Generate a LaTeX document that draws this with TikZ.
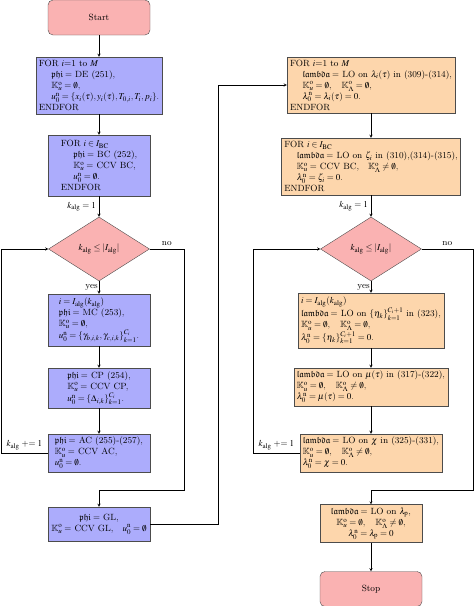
\documentclass[tikz,border=0pt]{standalone}
\usepackage{mathptmx}
\usepackage{amssymb}
\usetikzlibrary{shapes.geometric}
\definecolor{procblue}{RGB}{172,172,252}
\definecolor{procpeach}{RGB}{253,214,172}
\definecolor{condpink}{RGB}{250,178,178}
\newcommand{\ind}{\hspace*{1.4em}}
\newcommand{\Ku}{\mathbb{K}_u^{\mathrm{o}}}
\newcommand{\KL}{\mathbb{K}_\Lambda^{\mathrm{o}}}
\newcommand{\kalg}{k_{\mathrm{alg}}}

\begin{document}
\begin{tikzpicture}
  [x=1pt,y=-1pt,font=\small,>=stealth,
   every node/.style={inner sep=3pt},
   blubox/.style={draw=black!70,fill=procblue,align=left,minimum width=102pt},
   pchbox/.style={draw=black!70,fill=procpeach,align=left,minimum width=102pt},
   ends/.style={draw=black!70,fill=condpink,rounded corners=5pt,minimum width=102pt,minimum height=35pt},
   cond/.style={draw=black!70,fill=condpink,diamond,inner sep=0pt,minimum width=101pt,minimum height=64pt}]
  \useasboundingbox (0,0) rectangle (474,606);
  % left column
  \node[ends] (start) at (99,17.5) {Start};
  \node[blubox,minimum height=57pt] (fora) at (99,85.5) {FOR $i$=1 to $M$\\
    \ind$\mathfrak{phi}=$ DE (251),\\
    \ind$\Ku=\emptyset,$\\
    \ind$u_0^{\mathrm{n}}=\{x_i(\tau),y_i(\tau),T_{0,i},T_i,p_i\}.$\\
    ENDFOR};
  \node[blubox,minimum height=61pt] (forb) at (99,165.5) {FOR $i\in I_{\mathrm{BC}}$\\
    \ind$\mathfrak{phi}=$ BC (252),\\
    \ind$\Ku=$ CCV BC,\\
    \ind$u_0^{\mathrm{n}}=\emptyset.$\\
    ENDFOR};
  \node[cond] (conda) at (99,249) {$\kalg\leq|I_{\mathrm{alg}}|$};
  \node[blubox,minimum height=52pt] (mc) at (99,320) {$i=I_{\mathrm{alg}}(\kalg)$\\
    $\mathfrak{phi}=$ MC (253),\\
    $\Ku=\emptyset,$\\
    $u_0^{\mathrm{n}}=\{\gamma_{b,i,k},\gamma_{c,i,k}\}_{k=1}^{C_i}.$};
  \node[blubox,minimum height=40pt] (cp) at (99,388) {$\mathfrak{phi}=$ CP (254),\\
    $\Ku=$ CCV CP,\\
    $u_0^{\mathrm{n}}=\{\Delta_{i,k}\}_{k=1}^{C_i}.$};
  \node[blubox,minimum height=38pt] (ac) at (99,453) {$\mathfrak{phi}=$ AC (255)-(257),\\
    $\Ku=$ CCV AC,\\
    $u_0^{\mathrm{n}}=\emptyset.$};
  \node[blubox,align=center,minimum height=34pt] (gl) at (99,524) {$\mathfrak{phi}=$ GL,\\
    $\Ku=$ CCV GL,\quad $u_0^{\mathrm{n}}=\emptyset$};
  % right column
  \node[pchbox,minimum height=56pt] (lfora) at (371,85) {FOR $i$=1 to $M$\\
    \ind$\mathfrak{lambda}=$ LO on $\lambda_i(\tau)$ in (309)-(314),\\
    \ind$\Ku=\emptyset,\quad\KL=\emptyset,$\\
    \ind$\lambda_0^{\mathrm{n}}=\lambda_i(\tau)=0.$\\
    ENDFOR};
  \node[pchbox,minimum height=57pt] (lforb) at (371,166.5) {FOR $i\in I_{\mathrm{BC}}$\\
    \ind$\mathfrak{lambda}=$ LO on $\zeta_i$ in (310),(314)-(315),\\
    \ind$\Ku=$ CCV BC,\quad$\KL\neq\emptyset,$\\
    \ind$\lambda_0^{\mathrm{n}}=\zeta_i=0.$\\
    ENDFOR};
  \node[cond] (condb) at (371,249) {$\kalg\leq|I_{\mathrm{alg}}|$};
  \node[pchbox,minimum height=55pt] (leta) at (371,320.5) {$i=I_{\mathrm{alg}}(\kalg)$\\
    $\mathfrak{lambda}=$ LO on $\{\eta_k\}_{k=1}^{C_i+1}$ in (323),\\
    $\Ku=\emptyset,\quad\KL=\emptyset,$\\
    $\lambda_0^{\mathrm{n}}=\{\eta_k\}_{k=1}^{C_i+1}=0.$};
  \node[pchbox,minimum height=38pt] (lmu) at (371,387) {$\mathfrak{lambda}=$ LO on $\mu(\tau)$ in (317)-(322),\\
    $\Ku=\emptyset,\quad\KL\neq\emptyset,$\\
    $\lambda_0^{\mathrm{n}}=\mu(\tau)=0.$};
  \node[pchbox,minimum height=38pt] (lchi) at (371,453) {$\mathfrak{lambda}=$ LO on $\chi$ in (325)-(331),\\
    $\Ku=\emptyset,\quad\KL\neq\emptyset,$\\
    $\lambda_0^{\mathrm{n}}=\chi=0.$};
  \node[pchbox,align=center,minimum height=35pt] (lp) at (371,523.5) {$\mathfrak{lambda}=$ LO on $\lambda_{\mathrm{p}}$,\\
    $\Ku=\emptyset,\quad\KL\neq\emptyset,$\\
    $\lambda_0^{\mathrm{n}}=\lambda_{\mathrm{p}}=0$};
  \node[ends] (stop) at (371,589) {Stop};
  % turning points
  \coordinate (lloop) at (1,0);
  \coordinate (lno) at (184,0);
  \coordinate (glin) at (99,490);
  \coordinate (cross) at (218,0);
  \coordinate (rloop) at (253,0);
  \coordinate (rno) at (473,0);
  \coordinate (lpin) at (371,490);
  % connectors
  \foreach \from/\to in {start/fora,fora/forb,mc/cp,cp/ac,lfora/lforb,leta/lmu,lmu/lchi,lp/stop}
    \draw[->] (\from) -- (\to);
  \draw[->] (forb) -- node[left]{$\kalg=1$} (conda);
  \draw[->] (conda) -- node[left,inner sep=1pt]{yes} (mc);
  \draw[->] (lforb) -- node[left]{$\kalg=1$} (condb);
  \draw[->] (condb) -- node[left,inner sep=1pt]{yes} (leta);
  \draw[->] (ac.west) -- node[above]{$\kalg\mathrel{+}=1$} (ac.west -| lloop) |- (conda.west);
  \draw[->] (conda.east) -- node[above]{no} (conda.east -| lno) |- (glin) -- (gl);
  \draw[->] (gl.east) -- (gl.east -| cross) |- (lfora.west);
  \draw[->] (lchi.west) -- node[above]{$\kalg\mathrel{+}=1$} (lchi.west -| rloop) |- (condb.west);
  \draw[->] (condb.east) -- node[above]{no} (condb.east -| rno) |- (lpin) -- (lp);

\end{tikzpicture}
\end{document}
